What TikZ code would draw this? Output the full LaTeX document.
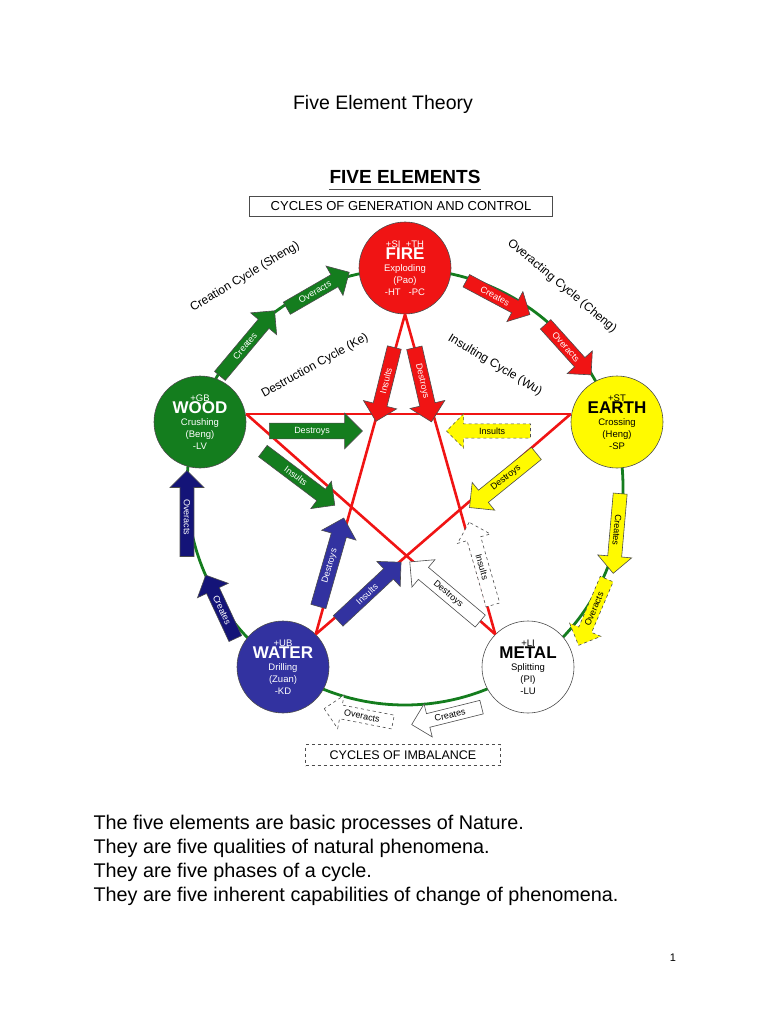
\documentclass[tikz,border=0pt]{standalone}
\usepackage{fontspec}
\setmainfont{Liberation Sans}
\usetikzlibrary{shapes.arrows}
\definecolor{cred}{RGB}{240,20,20}
\definecolor{cgreen}{RGB}{20,125,30}
\definecolor{cblue}{RGB}{50,50,160}
\definecolor{cnavy}{RGB}{20,20,120}
\definecolor{cyel}{RGB}{255,250,0}
\tikzset{
  el/.style={circle,draw=black!70,line width=0.6pt,minimum size=92pt,inner sep=0pt,align=center,font=\fontsize{9.5}{12}\selectfont},
  ba/.style={single arrow,draw=black!70,line width=0.6pt,single arrow head extend=10pt,inner sep=3.5pt,font=\fontsize{9}{10}\selectfont,anchor=center},
  rv/.style={shape border rotate=180},
  cyc/.style={font=\fontsize{12}{14}\selectfont},
  star/.style={cred,line width=2.6pt},
  txt/.style={font=\fontsize{19.8}{23}\selectfont,anchor=base west}
}
\newcommand\elname[1]{{\fontsize{17}{18}\selectfont\bfseries #1}}
\newcommand\barr[6]{\node[ba,rotate=#3,minimum height=#4,#5] (#1) at (#2) {#6};}
\begin{document}
\begin{tikzpicture}[x=1pt,y=-1pt]
\useasboundingbox (0,0) rectangle (768,1024);
\node[font=\fontsize{19.5}{22}\selectfont] (title) at (383,104) {Five Element Theory};
\node[font=\fontsize{19}{22}\selectfont\bfseries] (fe) at (405,177) {FIVE ELEMENTS};
\draw[line width=1.4pt,black!70] ([xshift=3pt,yshift=-2pt]fe.south west) -- ([xshift=-3pt,yshift=-2pt]fe.south east);
\node[draw=black!70,line width=0.8pt,minimum width=303pt,minimum height=20pt,inner sep=0pt,font=\fontsize{13}{15}\selectfont] (gen) at (401,206) {CYCLES OF GENERATION AND CONTROL};
\node[draw=black!70,dashed,line width=0.8pt,minimum width=195pt,minimum height=21pt,inner sep=0pt,font=\fontsize{12.5}{15}\selectfont] (imb) at (403,755) {CYCLES OF IMBALANCE};

% ring
\draw[cgreen,line width=2.8pt] (405,487) circle[radius=218];

% elements
\node[el,fill=cred,text=white] (fire) at (405,268) {+SI\ \ +TH\\\elname{FIRE}\\Exploding\\(Pao)\\-HT\ \ \ -PC};
\node[el,fill=cgreen,text=white] (wood) at (200,422) {+GB\\\elname{WOOD}\\Crushing\\(Beng)\\-LV};
\node[el,fill=cyel,text=black] (earth) at (617,422) {+ST\\\elname{EARTH}\\Crossing\\(Heng)\\-SP};
\node[el,fill=cblue,text=white] (water) at (283,667) {+UB\\\elname{WATER}\\Drilling\\(Zuan)\\-KD};
\node[el,fill=white,text=black] (metal) at (528,667) {+LI\\\elname{METAL}\\Splitting\\(PI)\\-LU};

% pentagram
\draw[star] (fire.south) -- (water.north east);
\draw[star] (fire.south) -- (metal.north west);
\draw[star] ([yshift=8pt]wood.east) -- ([yshift=8pt]earth.west);
\draw[star] ([yshift=8pt]wood.east) -- (metal.north west);
\draw[star] ([yshift=8pt]earth.west) -- (water.north east);

% cycle labels
\node[cyc,rotate=31] (l1) at (245,277) {Creation Cycle (Sheng)};
\node[cyc,rotate=-40] (l2) at (562,286) {Overacting Cycle (Cheng)};
\node[cyc,rotate=29] (l3) at (315,366) {Destruction Cycle (Ke)};
\node[cyc,rotate=-31] (l4) at (495,365) {Insulting Cycle (Wu)};

% arrows
\barr{a1}{245,346}{50}{85pt}{fill=cgreen,text=white}{Creates}
\barr{a2}{315,292}{30}{72pt}{fill=cgreen,text=white}{Overacts}
\barr{a3}{495,296}{-28}{72pt}{fill=cred,text=white}{Creates}
\barr{a4}{566,347}{-48}{68pt}{fill=cred,text=white}{Overacts}
\barr{a5}{386,381}{76}{76pt}{fill=cred,text=white,rv}{Insults}
\barr{a6}{422,381}{-77}{76pt}{fill=cred,text=white}{Destroys}
\barr{a7}{312,431}{0}{93pt}{fill=cgreen,text=white}{Destroys}
\barr{a8}{492,431}{0}{84pt}{fill=cyel,text=black,dashed,rv}{Insults}
\barr{a9}{506,478}{39}{86pt}{fill=cyel,text=black,rv}{Destroys}
\barr{a10}{296,476}{-37}{90pt}{fill=cgreen,text=white}{Insults}
\barr{a11}{617,530}{-95}{80pt}{fill=cyel,text=black}{Creates}
\barr{a12}{594,609}{67}{72pt}{fill=cyel,text=black,dashed,rv}{Overacts}
\barr{a13}{187,517}{-90}{86pt}{fill=cnavy,text=white,rv}{Overacts}
\barr{a14}{222,610}{-65}{70pt}{fill=cnavy,text=white,rv}{Creates}
\barr{a15}{330,566}{74}{92pt}{fill=cblue,text=white}{Destroys}
\barr{a16}{367,594}{43}{86pt}{fill=cblue,text=white}{Insults}
\barr{a17}{448,594}{-40}{92pt}{fill=white,text=black,rv}{Destroys}
\barr{a18}{482,567}{-74}{86pt}{fill=white,text=black,dashed,rv}{Insults}
\barr{a19}{450,715}{14}{72pt}{fill=white,text=black,rv}{Creates}
\barr{a20}{362,716}{-11}{70pt}{fill=white,text=black,dashed,rv}{Overacts}

% text
\node[txt] (t1) at (90,829) {The five elements are basic processes of Nature.};
\node[txt] (t2) at (90,853) {They are five qualities of natural phenomena.};
\node[txt] (t3) at (90,877) {They are five phases of a cycle.};
\node[txt] (t4) at (90,901) {They are five inherent capabilities of change of phenomena.};
\node[font=\fontsize{11}{13}\selectfont] (pg) at (673,958) {1};
\end{tikzpicture}
\end{document}
